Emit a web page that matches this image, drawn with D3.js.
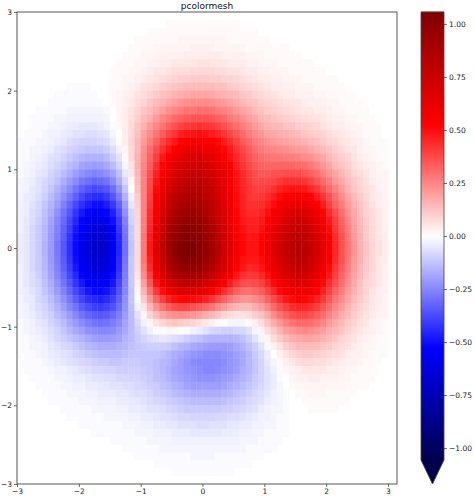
<!DOCTYPE html>
<html><head><meta charset="utf-8">
<script src="https://cdn.jsdelivr.net/npm/d3@7"></script>
<style>
html,body{margin:0;padding:0;background:#fff;}
svg{display:block;font-family:"DejaVu Sans",sans-serif;}
</style></head><body>
<svg id="chart" width="474" height="498"></svg>
<script>
const chartTitle = "pcolormesh";
// cell centres (cells are 0.1 wide)
const xCenters = [-2.95,-2.85,-2.75,-2.65,-2.55,-2.45,-2.35,-2.25,-2.15,-2.05,-1.95,-1.85,-1.75,-1.65,-1.55,-1.45,-1.35,-1.25,-1.15,-1.05,-0.95,-0.85,-0.75,-0.65,-0.55,-0.45,-0.35,-0.25,-0.15,-0.05,0.05,0.15,0.25,0.35,0.45,0.55,0.65,0.75,0.85,0.95,1.05,1.15,1.25,1.35,1.45,1.55,1.65,1.75,1.85,1.95,2.05,2.15,2.25,2.35,2.45,2.55,2.65,2.75,2.85,2.95];
const yCenters = [2.95,2.85,2.75,2.65,2.55,2.45,2.35,2.25,2.15,2.05,1.95,1.85,1.75,1.65,1.55,1.45,1.35,1.25,1.15,1.05,0.95,0.85,0.75,0.65,0.55,0.45,0.35,0.25,0.15,0.05,-0.05,-0.15,-0.25,-0.35,-0.45,-0.55,-0.65,-0.75,-0.85,-0.95,-1.05,-1.15,-1.25,-1.35,-1.45,-1.55,-1.65,-1.75,-1.85,-1.95,-2.05,-2.15,-2.25,-2.35,-2.45,-2.55,-2.65,-2.75,-2.85,-2.95];
// cell values in hundredths, one row per yCenters entry (top to bottom)
const zHundredths = [
[0,0,0,0,0,0,0,0,0,0, 0,0,0,0,0,0,0,0,0,0, 0,0,0,0,0,0,0,0,0,0, 0,0,0,0,0,0,0,0,0,0, 0,0,0,0,0,0,0,0,0,0, 0,0,0,0,0,0,0,0,0,0],
[0,0,0,0,0,0,0,0,0,0, 0,0,0,0,0,0,0,0,0,0, 0,0,0,0,1,1,1,1,1,1, 1,1,1,1,1,1,0,0,0,0, 0,0,0,0,0,0,0,0,0,0, 0,0,0,0,0,0,0,0,0,0],
[0,0,0,0,0,0,0,0,0,0, 0,0,0,0,0,0,0,0,0,0, 0,1,1,1,1,1,1,1,1,1, 1,1,1,1,1,1,1,1,1,0, 0,0,0,0,0,0,0,0,0,0, 0,0,0,0,0,0,0,0,0,0],
[0,0,0,0,0,0,0,0,0,0, 0,0,0,0,0,0,0,0,0,1, 1,1,1,1,1,1,2,2,2,2, 2,2,2,2,1,1,1,1,1,1, 1,0,0,0,0,0,0,0,0,0, 0,0,0,0,0,0,0,0,0,0],
[0,0,0,0,0,0,0,0,0,0, 0,0,0,0,0,0,0,0,1,1, 1,1,2,2,2,2,2,2,3,3, 3,3,2,2,2,2,2,1,1,1, 1,1,1,1,0,0,0,0,0,0, 0,0,0,0,0,0,0,0,0,0],
[0,0,0,0,0,0,0,0,0,0, 0,0,0,0,0,0,0,1,1,1, 2,2,2,3,3,3,3,4,4,4, 4,4,4,3,3,3,3,2,2,2, 1,1,1,1,1,1,0,0,0,0, 0,0,0,0,0,0,0,0,0,0],
[0,0,0,0,0,0,0,0,0,0, 0,0,0,0,0,0,1,1,1,2, 2,3,3,4,4,5,5,5,5,6, 6,5,5,5,4,4,4,3,3,2, 2,2,1,1,1,1,1,1,0,0, 0,0,0,0,0,0,0,0,0,0],
[0,0,0,0,0,0,0,0,0,0, 0,0,0,0,0,1,1,1,2,2, 3,4,5,5,6,7,7,7,8,8, 8,8,7,7,6,6,5,4,4,3, 3,2,2,2,1,1,1,1,1,1, 0,0,0,0,0,0,0,0,0,0],
[0,0,0,0,0,0,0,0,0,0, 0,0,0,0,0,1,1,2,2,3, 4,5,6,7,8,9,10,10,11,11, 11,10,10,9,9,8,7,6,5,4, 4,3,3,2,2,2,1,1,1,1, 1,1,0,0,0,0,0,0,0,0],
[0,0,0,0,0,0,0,0,-1,-1, -1,-1,0,0,0,1,1,2,3,4, 6,7,8,10,11,12,13,14,14,14, 14,14,13,13,11,10,9,8,7,6, 5,4,4,3,3,2,2,2,1,1, 1,1,1,0,0,0,0,0,0,0],
[0,0,0,0,0,0,-1,-1,-1,-1, -1,-1,-1,0,0,1,2,3,4,6, 7,9,11,13,14,16,17,18,19,19, 19,18,17,16,15,14,12,11,9,8, 7,6,5,4,4,3,3,3,2,2, 1,1,1,1,1,0,0,0,0,0],
[0,0,0,0,0,-1,-1,-1,-1,-1, -1,-1,-1,-1,0,1,2,3,5,7, 9,12,14,16,18,20,22,23,24,24, 24,23,22,21,19,17,15,13,12,10, 9,8,7,6,5,5,4,3,3,3, 2,2,1,1,1,1,0,0,0,0],
[0,0,0,-1,-1,-1,-1,-1,-2,-2, -2,-2,-2,-2,-1,0,2,4,6,9, 12,14,17,20,23,25,27,29,29,30, 30,29,27,26,24,21,19,17,14,13, 11,10,9,8,7,6,5,5,4,4, 3,2,2,1,1,1,1,0,0,0],
[0,0,-1,-1,-1,-1,-2,-2,-3,-3, -3,-3,-3,-3,-2,0,2,4,7,10, 14,17,21,25,28,31,33,35,36,36, 36,35,33,31,28,26,23,20,18,15, 14,12,11,10,9,8,7,6,6,5, 4,3,3,2,2,1,1,1,0,0],
[0,0,-1,-1,-1,-2,-2,-3,-4,-4, -5,-5,-5,-4,-3,-1,1,4,8,12, 16,21,25,29,33,36,39,41,42,43, 42,41,39,36,33,30,27,24,21,18, 16,15,14,12,12,11,10,9,8,6, 5,4,4,3,2,2,1,1,1,0],
[0,-1,-1,-1,-2,-3,-3,-4,-5,-6, -6,-7,-7,-6,-5,-2,0,4,8,13, 19,24,29,34,39,42,46,48,49,50, 49,47,45,42,38,35,31,27,24,22, 19,18,17,16,15,14,12,11,10,9, 7,6,5,4,3,2,1,1,1,0],
[-1,-1,-1,-2,-2,-3,-4,-5,-7,-8, -9,-9,-9,-8,-7,-4,-1,4,9,15, 21,27,33,39,44,48,52,54,56,56, 55,53,51,47,43,39,34,31,27,25, 23,21,20,19,18,17,16,14,13,11, 9,8,6,5,4,3,2,1,1,1],
[-1,-1,-2,-2,-3,-4,-6,-7,-9,-10, -11,-12,-12,-12,-10,-7,-3,2,8,15, 23,30,37,43,49,54,58,61,62,62, 61,59,56,52,47,42,38,34,30,28, 26,25,24,23,22,21,20,18,16,14, 12,10,8,6,5,3,2,2,1,1],
[-1,-1,-2,-3,-4,-6,-7,-9,-11,-13, -15,-16,-16,-16,-14,-10,-6,1,8,16, 24,32,40,48,54,59,63,66,68,68, 66,64,60,55,50,45,40,36,33,30, 29,28,28,27,27,26,24,23,20,18, 15,12,10,8,6,4,3,2,1,1],
[-1,-2,-3,-4,-5,-7,-9,-11,-14,-16, -19,-20,-21,-20,-18,-14,-9,-2,6,16, 25,34,43,52,58,64,68,71,72,72, 71,68,63,58,53,47,42,38,35,33, 32,32,32,32,32,31,30,28,25,22, 19,15,12,10,7,5,4,3,2,1],
[-1,-2,-3,-5,-6,-9,-11,-14,-17,-20, -23,-25,-26,-25,-23,-19,-13,-5,5,15, 26,36,46,55,62,68,73,75,77,76, 74,71,66,61,55,49,44,40,37,35, 35,36,36,37,37,37,35,33,30,26, 22,19,15,12,9,7,5,3,2,2],
[-2,-3,-4,-6,-8,-10,-13,-17,-21,-24, -28,-30,-32,-31,-29,-24,-17,-8,2,14, 26,38,48,58,66,72,77,79,80,79, 77,73,68,62,56,50,45,41,38,38, 38,39,41,43,43,43,42,39,35,31, 27,22,18,14,11,8,6,4,3,2],
[-2,-3,-5,-6,-9,-12,-16,-20,-24,-29, -33,-36,-38,-37,-35,-30,-22,-12,0,13, 26,39,51,61,69,76,80,83,83,82, 79,75,69,63,57,50,45,42,40,40, 41,43,46,48,49,49,48,45,41,36, 31,26,21,16,12,9,7,5,3,2],
[-2,-4,-5,-7,-10,-14,-18,-23,-28,-33, -38,-42,-44,-44,-41,-35,-27,-16,-3,11, 26,40,53,64,73,79,84,86,86,85, 82,77,71,64,57,51,46,42,41,42, 44,47,51,54,56,56,55,52,47,42, 36,30,24,19,14,11,8,5,4,2],
[-3,-4,-6,-8,-12,-16,-20,-26,-32,-38, -43,-47,-50,-50,-47,-41,-32,-20,-5,10, 26,41,55,67,76,83,87,90,90,88, 84,79,72,65,58,51,46,43,43,44, 47,51,56,59,62,62,61,58,53,47, 40,33,27,21,16,12,9,6,4,3],
[-3,-4,-7,-9,-13,-17,-23,-29,-35,-42, -48,-52,-55,-55,-52,-46,-36,-23,-8,9, 26,43,57,70,79,87,91,93,93,91, 87,81,74,67,59,52,47,44,44,46, 50,55,60,65,68,68,67,64,58,52, 44,37,30,23,18,13,9,7,5,3],
[-3,-5,-7,-10,-14,-19,-25,-31,-38,-45, -52,-57,-60,-60,-57,-50,-40,-26,-9,9, 27,44,60,73,83,90,95,97,97,94, 90,84,76,68,60,53,48,46,46,48, 53,58,64,69,73,74,72,69,63,56, 48,40,32,25,19,14,10,7,5,3],
[-3,-5,-8,-11,-15,-20,-26,-33,-40,-48, -55,-60,-64,-64,-61,-54,-42,-28,-11,8, 27,45,62,75,86,94,99,101,100,98, 93,86,79,70,62,55,50,47,47,50, 55,61,68,73,77,78,77,73,67,59, 51,42,34,27,20,15,11,8,5,3],
[-4,-5,-8,-11,-15,-21,-27,-34,-42,-50, -57,-63,-67,-67,-63,-56,-44,-29,-11,8, 28,47,64,78,89,97,101,104,103,100, 95,89,81,72,64,56,51,48,49,52, 57,64,70,76,80,81,80,76,69,62, 53,44,36,28,21,16,11,8,5,4],
[-4,-5,-8,-11,-16,-21,-28,-35,-43,-51, -58,-64,-68,-68,-65,-57,-45,-30,-12,8, 28,48,65,79,90,98,103,105,105,102, 97,90,82,73,65,57,52,49,49,53, 58,65,72,78,81,83,81,77,71,63, 54,45,36,29,22,16,12,8,6,4],
[-4,-5,-8,-11,-16,-21,-28,-35,-43,-51, -58,-64,-68,-68,-65,-57,-45,-30,-12,8, 28,48,65,79,90,98,103,105,105,102, 97,90,82,73,65,57,52,49,49,53, 58,65,72,78,81,83,81,77,71,63, 54,45,36,29,22,16,12,8,6,4],
[-4,-5,-8,-11,-15,-21,-27,-34,-42,-50, -57,-63,-67,-67,-63,-56,-44,-29,-11,8, 28,46,63,77,88,96,101,103,102,100, 95,88,80,72,63,56,50,48,48,51, 57,63,70,76,80,81,80,76,69,62, 53,44,36,28,21,16,11,8,5,4],
[-3,-5,-8,-11,-15,-20,-26,-33,-40,-48, -55,-61,-64,-64,-61,-54,-43,-28,-11,7, 26,44,60,73,84,91,96,98,97,95, 90,84,76,68,60,53,48,45,46,49, 54,61,67,73,76,78,76,73,67,59, 51,42,34,27,20,15,11,8,5,3],
[-3,-5,-7,-10,-14,-19,-25,-31,-38,-45, -52,-57,-60,-61,-58,-51,-41,-27,-11,6, 24,40,55,68,77,84,88,90,89,87, 82,76,69,62,54,48,43,41,42,45, 50,56,63,68,72,73,72,68,63,56, 48,40,32,25,19,14,10,7,5,3],
[-3,-5,-7,-9,-13,-17,-23,-29,-35,-42, -48,-53,-56,-56,-54,-48,-38,-26,-11,4, 20,35,49,60,68,74,78,79,79,76, 72,67,60,53,47,41,37,36,37,40, 45,51,57,62,66,67,66,63,58,51, 44,37,30,23,18,13,9,7,5,3],
[-3,-4,-6,-8,-12,-16,-21,-26,-32,-38, -43,-48,-51,-51,-49,-44,-36,-25,-12,2, 16,29,41,50,58,63,66,66,66,63, 60,55,49,43,38,33,30,29,31,34, 39,45,51,55,59,60,59,57,52,46, 40,33,27,21,16,12,9,6,4,3],
[-2,-4,-5,-8,-10,-14,-18,-23,-28,-34, -39,-43,-45,-46,-44,-40,-33,-23,-12,-1, 11,22,32,40,46,50,52,52,51,49, 46,42,37,32,28,24,22,22,24,27, 32,38,43,48,51,53,52,50,46,41, 35,29,24,19,14,11,8,5,4,2],
[-2,-3,-5,-7,-9,-12,-16,-20,-25,-29, -34,-37,-40,-41,-39,-36,-30,-22,-13,-3, 6,15,23,29,34,37,38,38,36,34, 31,28,24,21,17,15,14,14,17,20, 25,31,36,40,44,45,45,43,40,35, 30,25,21,16,12,9,7,5,3,2],
[-2,-3,-4,-6,-8,-10,-14,-17,-21,-25, -29,-32,-34,-35,-34,-31,-27,-21,-14,-6, 2,9,14,19,22,23,24,23,22,20, 17,15,12,9,7,6,6,7,10,13, 18,24,29,33,36,38,38,36,33,30, 26,22,17,14,10,8,6,4,3,2],
[-1,-2,-3,-5,-6,-9,-11,-14,-18,-21, -24,-27,-29,-30,-29,-27,-24,-19,-14,-8, -3,2,6,9,11,12,11,10,9,7, 5,3,1,-1,-2,-2,-2,0,3,7, 12,17,22,26,29,31,31,30,28,25, 21,18,15,11,9,6,5,3,2,1],
[-1,-2,-3,-4,-5,-7,-9,-12,-15,-18, -20,-23,-24,-25,-25,-24,-21,-18,-14,-10, -6,-3,0,1,2,1,0,-1,-3,-4, -6,-8,-9,-10,-10,-9,-8,-6,-2,2, 7,11,16,20,22,24,25,24,22,20, 17,15,12,9,7,5,4,3,2,1],
[-1,-1,-2,-3,-4,-6,-8,-10,-12,-14, -16,-18,-20,-21,-21,-20,-19,-16,-14,-11, -9,-7,-6,-5,-6,-7,-8,-10,-12,-13, -15,-16,-16,-16,-16,-15,-13,-10,-6,-2, 2,7,11,14,17,18,19,19,18,16, 14,12,9,7,6,4,3,2,1,1],
[-1,-1,-2,-2,-3,-5,-6,-8,-9,-11, -13,-15,-16,-17,-17,-17,-16,-15,-13,-12, -11,-10,-10,-10,-11,-13,-15,-16,-18,-19, -20,-21,-21,-21,-20,-18,-16,-13,-10,-6, -1,3,6,10,12,14,14,14,14,12, 11,9,7,6,4,3,2,2,1,1],
[-1,-1,-1,-2,-3,-4,-5,-6,-7,-9, -10,-12,-13,-14,-14,-14,-14,-13,-12,-12, -12,-12,-12,-13,-15,-17,-18,-20,-22,-23, -24,-24,-24,-23,-22,-20,-18,-15,-11,-8, -4,0,3,6,8,10,11,11,10,9, 8,7,6,4,3,3,2,1,1,1],
[0,-1,-1,-1,-2,-3,-4,-5,-6,-7, -8,-9,-10,-11,-11,-12,-12,-11,-11,-11, -12,-12,-13,-15,-16,-18,-20,-22,-24,-25, -25,-25,-25,-24,-22,-21,-18,-15,-12,-9, -5,-2,1,3,5,7,8,8,7,7, 6,5,4,3,3,2,1,1,1,0],
[0,-1,-1,-1,-1,-2,-3,-3,-4,-5, -6,-7,-8,-8,-9,-9,-10,-10,-10,-10, -11,-12,-13,-15,-17,-19,-20,-22,-23,-24, -25,-25,-24,-23,-22,-20,-17,-15,-12,-9, -6,-3,-1,2,3,4,5,5,5,5, 4,4,3,2,2,1,1,1,0,0],
[0,0,-1,-1,-1,-1,-2,-2,-3,-4, -4,-5,-6,-6,-7,-7,-8,-8,-9,-9, -10,-11,-13,-14,-16,-18,-19,-21,-22,-23, -23,-23,-22,-21,-20,-18,-16,-14,-11,-9, -6,-4,-1,0,2,3,3,4,4,3, 3,3,2,2,1,1,1,1,0,0],
[0,0,0,-1,-1,-1,-1,-2,-2,-3, -3,-4,-4,-5,-5,-6,-6,-7,-7,-8, -9,-10,-11,-13,-14,-16,-17,-19,-20,-20, -20,-20,-20,-19,-17,-16,-14,-12,-10,-8, -6,-4,-2,0,1,2,2,2,2,2, 2,2,2,1,1,1,1,0,0,0],
[0,0,0,0,-1,-1,-1,-1,-2,-2, -2,-3,-3,-4,-4,-4,-5,-5,-6,-7, -7,-8,-10,-11,-12,-14,-15,-16,-17,-17, -17,-17,-17,-16,-15,-13,-12,-10,-8,-7, -5,-3,-2,-1,0,1,1,2,2,2, 1,1,1,1,1,0,0,0,0,0],
[0,0,0,0,0,-1,-1,-1,-1,-1, -2,-2,-2,-3,-3,-3,-4,-4,-5,-5, -6,-7,-8,-9,-10,-11,-12,-13,-14,-14, -14,-14,-14,-13,-12,-11,-10,-8,-7,-6, -4,-3,-2,-1,0,0,1,1,1,1, 1,1,1,1,0,0,0,0,0,0],
[0,0,0,0,0,0,0,-1,-1,-1, -1,-1,-2,-2,-2,-2,-3,-3,-4,-4, -5,-6,-6,-7,-8,-9,-10,-11,-11,-11, -11,-11,-11,-10,-10,-9,-8,-7,-6,-4, -3,-2,-2,-1,0,0,0,1,1,1, 1,1,0,0,0,0,0,0,0,0],
[0,0,0,0,0,0,0,0,-1,-1, -1,-1,-1,-1,-2,-2,-2,-2,-3,-3, -4,-4,-5,-6,-6,-7,-8,-8,-9,-9, -9,-9,-8,-8,-7,-7,-6,-5,-4,-3, -3,-2,-1,-1,0,0,0,0,0,0, 0,0,0,0,0,0,0,0,0,0],
[0,0,0,0,0,0,0,0,0,0, -1,-1,-1,-1,-1,-1,-1,-2,-2,-2, -3,-3,-4,-4,-5,-5,-6,-6,-6,-7, -7,-6,-6,-6,-5,-5,-4,-4,-3,-3, -2,-2,-1,-1,0,0,0,0,0,0, 0,0,0,0,0,0,0,0,0,0],
[0,0,0,0,0,0,0,0,0,0, 0,0,-1,-1,-1,-1,-1,-1,-1,-2, -2,-2,-3,-3,-3,-4,-4,-4,-5,-5, -5,-5,-5,-4,-4,-4,-3,-3,-2,-2, -1,-1,-1,-1,0,0,0,0,0,0, 0,0,0,0,0,0,0,0,0,0],
[0,0,0,0,0,0,0,0,0,0, 0,0,0,0,0,-1,-1,-1,-1,-1, -1,-2,-2,-2,-2,-3,-3,-3,-3,-3, -3,-3,-3,-3,-3,-3,-2,-2,-2,-1, -1,-1,-1,0,0,0,0,0,0,0, 0,0,0,0,0,0,0,0,0,0],
[0,0,0,0,0,0,0,0,0,0, 0,0,0,0,0,0,0,-1,-1,-1, -1,-1,-1,-2,-2,-2,-2,-2,-2,-2, -2,-2,-2,-2,-2,-2,-2,-1,-1,-1, -1,-1,0,0,0,0,0,0,0,0, 0,0,0,0,0,0,0,0,0,0],
[0,0,0,0,0,0,0,0,0,0, 0,0,0,0,0,0,0,0,0,-1, -1,-1,-1,-1,-1,-1,-1,-1,-2,-2, -2,-2,-1,-1,-1,-1,-1,-1,-1,-1, 0,0,0,0,0,0,0,0,0,0, 0,0,0,0,0,0,0,0,0,0],
[0,0,0,0,0,0,0,0,0,0, 0,0,0,0,0,0,0,0,0,0, 0,0,-1,-1,-1,-1,-1,-1,-1,-1, -1,-1,-1,-1,-1,-1,-1,-1,0,0, 0,0,0,0,0,0,0,0,0,0, 0,0,0,0,0,0,0,0,0,0],
[0,0,0,0,0,0,0,0,0,0, 0,0,0,0,0,0,0,0,0,0, 0,0,0,0,0,-1,-1,-1,-1,-1, -1,-1,-1,-1,-1,0,0,0,0,0, 0,0,0,0,0,0,0,0,0,0, 0,0,0,0,0,0,0,0,0,0],
[0,0,0,0,0,0,0,0,0,0, 0,0,0,0,0,0,0,0,0,0, 0,0,0,0,0,0,0,0,0,0, 0,0,0,0,0,0,0,0,0,0, 0,0,0,0,0,0,0,0,0,0, 0,0,0,0,0,0,0,0,0,0]
];
const cellWidth = 0.1;
const xTicks = [-3, -2, -1, 0, 1, 2, 3];
const yTicks = [-3, -2, -1, 0, 1, 2, 3];
const colorTicks = [-1, -0.75, -0.5, -0.25, 0, 0.25, 0.5, 0.75, 1];
const colorLimit = 1.056;
const xDomain = [-3, 3.146];
const yDomain = [-3, 3];
const seismicStops = ["#00004c", "#0000ff", "#ffffff", "#ff0000", "#7f0000"];

const svg = d3.select("#chart");
const plot = {left: 17, right: 397, top: 12, bottom: 484};
const cb = {left: 421, right: 444, top: 12, bottom: 460, tip: 484};

const x = d3.scaleLinear().domain(xDomain).range([plot.left, plot.right]);
const y = d3.scaleLinear().domain(yDomain).range([plot.bottom, plot.top]);
const color = d3.scaleLinear()
  .domain([-colorLimit, -colorLimit / 2, 0, colorLimit / 2, colorLimit])
  .range(seismicStops).interpolate(d3.interpolateRgb).clamp(true);

// cells
const cells = [];
zHundredths.forEach((row, i) => row.forEach((v, j) => cells.push({xc: xCenters[j], yc: yCenters[i], v: v / 100})));
const h = cellWidth / 2;
svg.append("g").selectAll("rect").data(cells).join("rect")
  .attr("x", d => x(d.xc - h))
  .attr("y", d => y(d.yc + h))
  .attr("width", d => x(d.xc + h) - x(d.xc - h) + 0.4)
  .attr("height", d => y(d.yc - h) - y(d.yc + h) + 0.4)
  .attr("fill", d => color(d.v));

// spines
svg.append("rect").attr("x", plot.left).attr("y", plot.top)
  .attr("width", plot.right - plot.left).attr("height", plot.bottom - plot.top)
  .attr("fill", "none").attr("stroke", "#444").attr("stroke-width", 0.9);

const tickFont = 7.5;
function styleAxis(g) {
  g.select(".domain").remove();
  g.selectAll(".tick line").attr("stroke", "#444").attr("stroke-width", 0.8);
  g.selectAll(".tick text").attr("fill", "#222").style("font-size", tickFont + "px").style("font-family", "DejaVu Sans");
}
svg.append("g").attr("transform", `translate(0,${plot.bottom})`)
  .call(d3.axisBottom(x).tickValues(xTicks).tickFormat(d3.format("d")).tickSize(3).tickPadding(2))
  .call(styleAxis);
svg.append("g").attr("transform", `translate(${plot.left},0)`)
  .call(d3.axisLeft(y).tickValues(yTicks).tickFormat(d3.format("d")).tickSize(3).tickPadding(2))
  .call(styleAxis);

// title
svg.append("text").attr("x", (plot.left + plot.right) / 2).attr("y", 9)
  .attr("text-anchor", "middle").style("font-size", "9px").attr("fill", "#111").text(chartTitle);

// colorbar
const cy = d3.scaleLinear().domain([-colorLimit, colorLimit]).range([cb.bottom, cb.top]);
const nSteps = 224;
const steps = d3.range(nSteps).map(k => -colorLimit + (k + 0.5) * (2 * colorLimit / nSteps));
const stepH = (cb.bottom - cb.top) / nSteps;
svg.append("g").selectAll("rect").data(steps).join("rect")
  .attr("x", cb.left).attr("width", cb.right - cb.left)
  .attr("y", d => cy(d) - stepH / 2 - 0.3).attr("height", stepH + 0.6)
  .attr("fill", d => color(d));
const mid = (cb.left + cb.right) / 2;
svg.append("path")
  .attr("d", `M${cb.left},${cb.bottom}L${cb.right},${cb.bottom}L${mid},${cb.tip}Z`)
  .attr("fill", seismicStops[0]);
svg.append("path")
  .attr("d", `M${cb.left},${cb.top}L${cb.right},${cb.top}L${cb.right},${cb.bottom}L${mid},${cb.tip}L${cb.left},${cb.bottom}Z`)
  .attr("fill", "none").attr("stroke", "#444").attr("stroke-width", 0.8);
svg.append("g").attr("transform", `translate(${cb.right},0)`)
  .call(d3.axisRight(cy).tickValues(colorTicks).tickFormat(d3.format(".2f")).tickSize(3).tickPadding(2))
  .call(styleAxis);
</script>
</body></html>
